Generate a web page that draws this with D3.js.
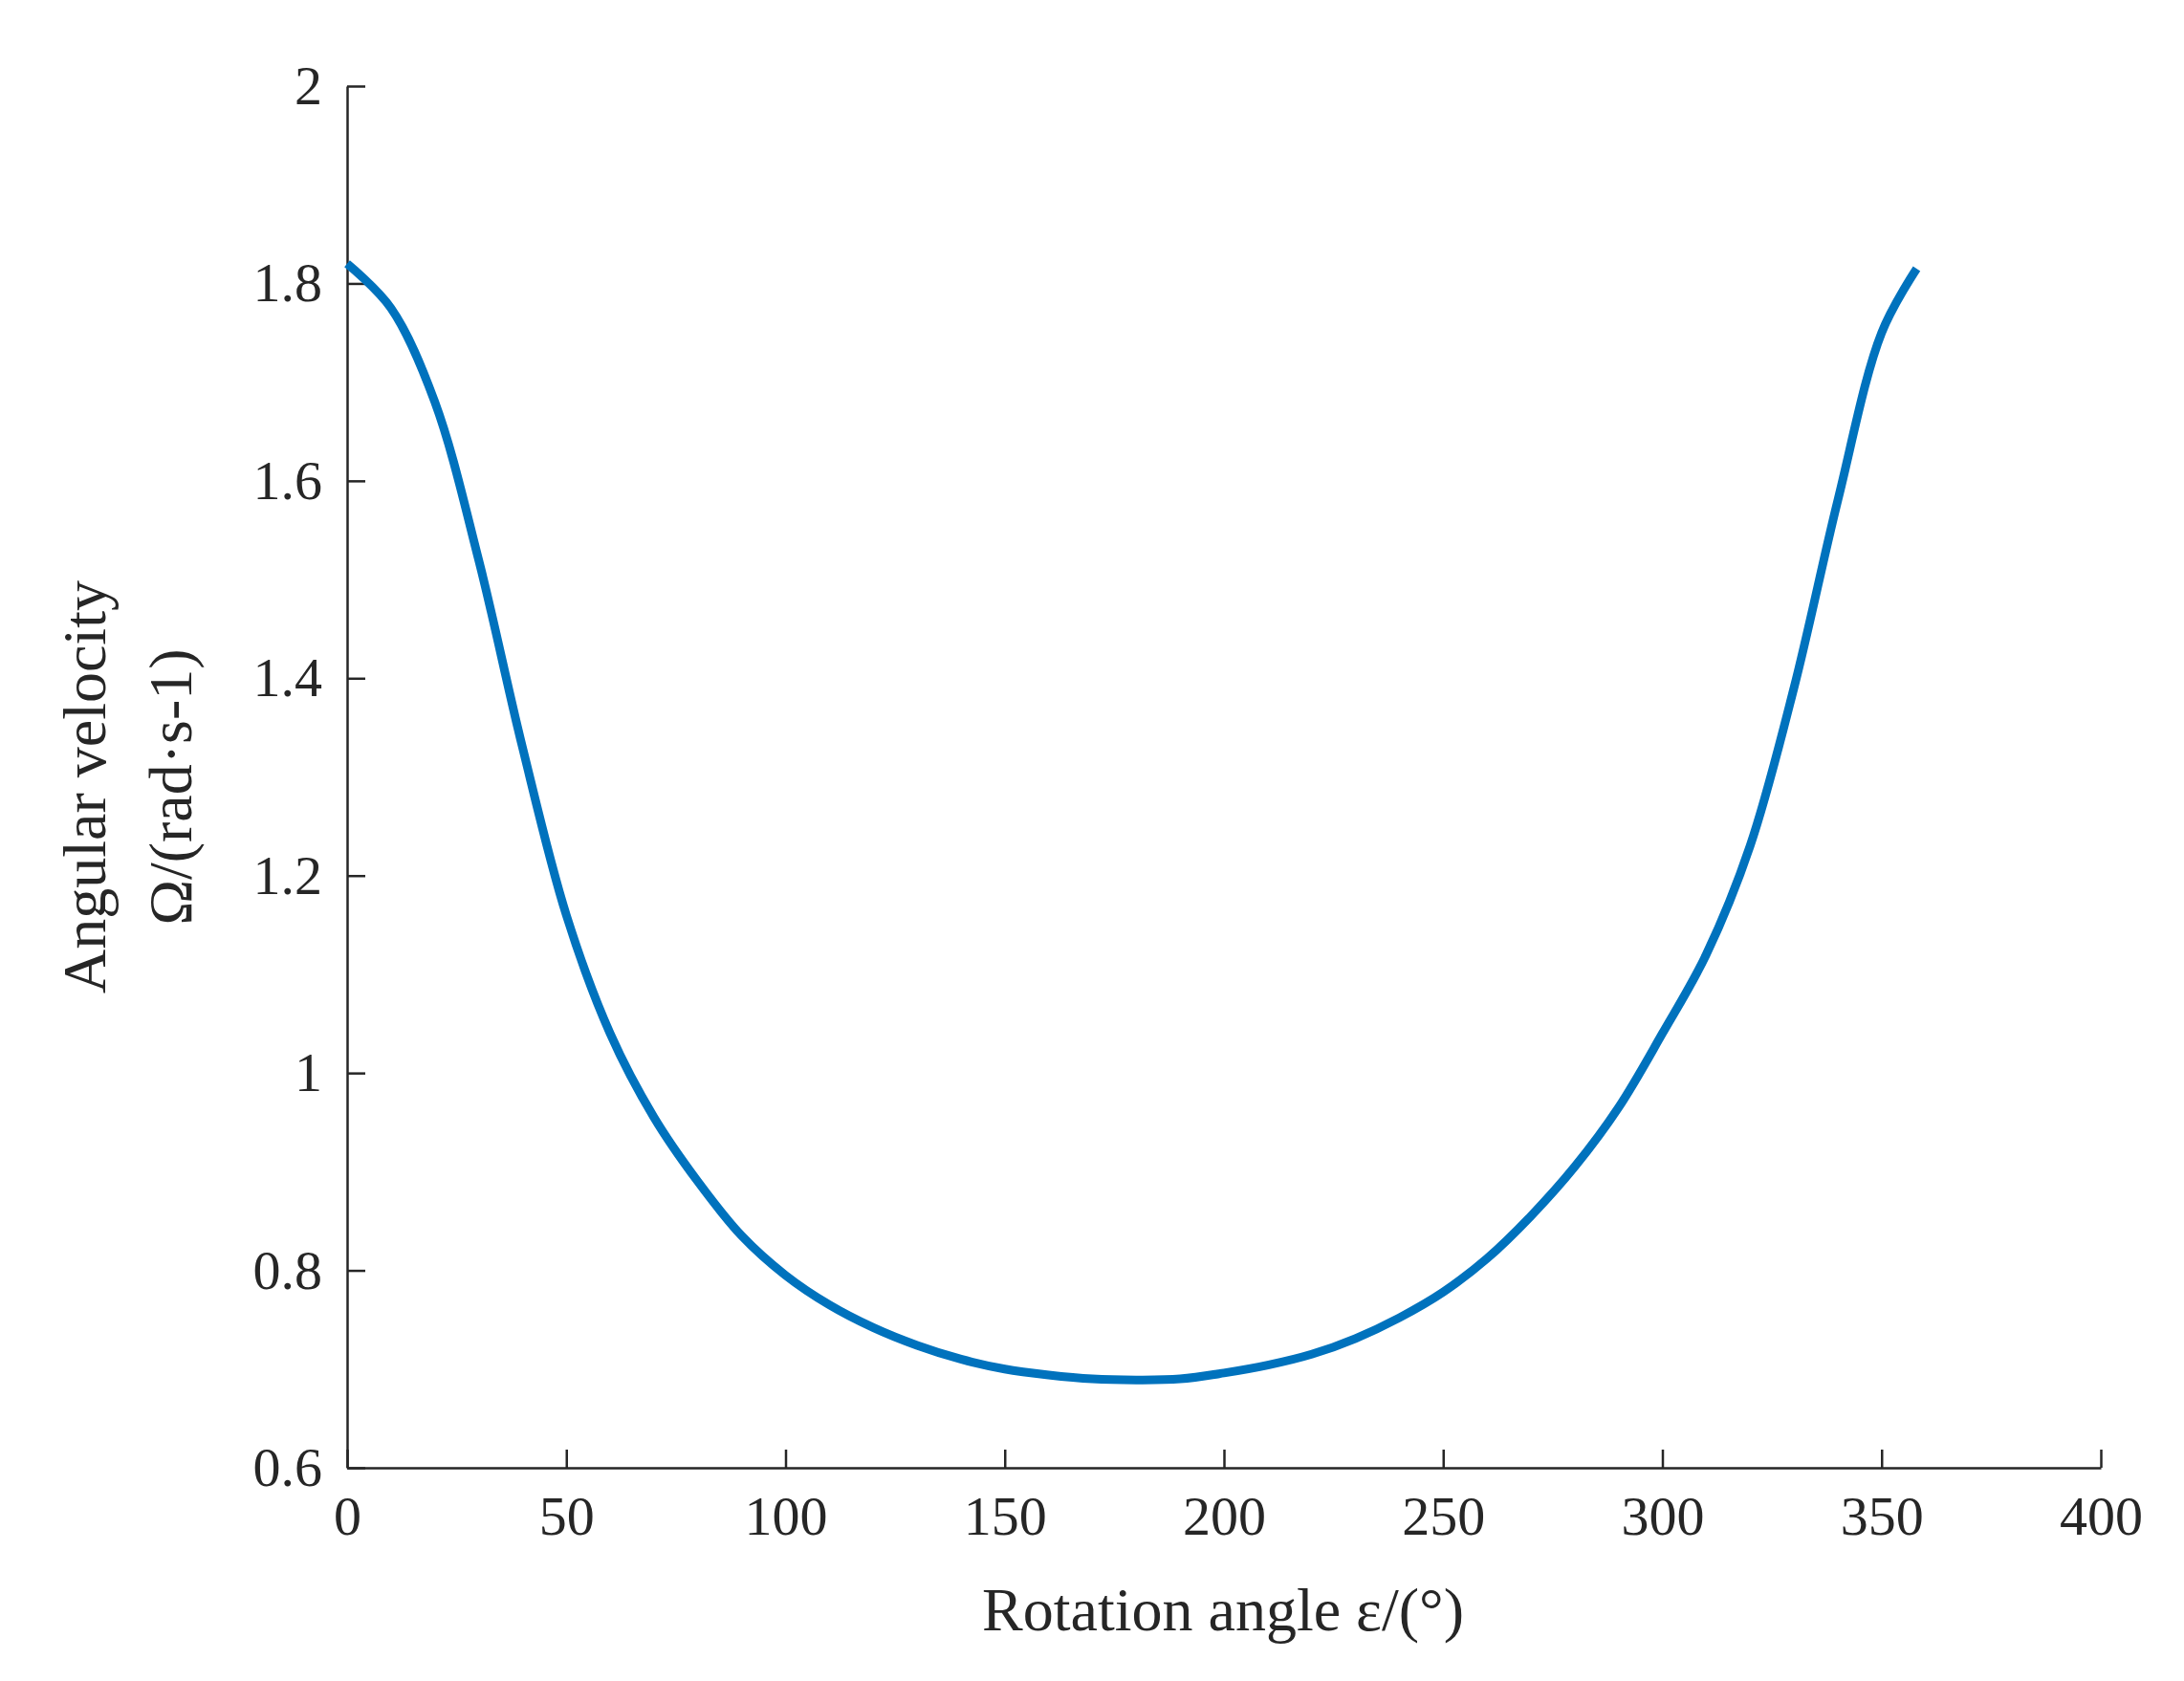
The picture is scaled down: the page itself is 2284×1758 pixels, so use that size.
<!DOCTYPE html>
<html><head><meta charset="utf-8">
<script src="https://cdn.jsdelivr.net/npm/d3@7"></script>
<style>body{margin:0;background:#fff}</style></head>
<body><svg id="c" width="2284" height="1758"></svg>
<script>
const angles = [0,10,20,30,40,50,60,70,80,90,100,110,120,130,140,150,160,170,180,190,200,210,220,230,240,250,260,270,280,290,300,310,320,330,340,350,358];
const omega = [1.82,1.775,1.68,1.52,1.33,1.16,1.04,0.955,0.89,0.835,0.795,0.765,0.742,0.724,0.71,0.700,0.694,0.690,0.689,0.690,0.696,0.704,0.715,0.731,0.752,0.778,0.812,0.855,0.905,0.965,1.04,1.12,1.23,1.39,1.58,1.75,1.815];
const xTicks = [0,50,100,150,200,250,300,350,400];
const yTicks = [0.6,0.8,1,1.2,1.4,1.6,1.8,2];

const svg = d3.select("#c");
const x = d3.scaleLinear().domain([0,400]).range([363,2197]);
const y = d3.scaleLinear().domain([0.6,2]).range([1535,90]);
const font = "'Liberation Serif','Times New Roman',serif";

const gx = svg.append("g").attr("transform","translate(0,1535)")
  .call(d3.axisBottom(x).tickValues(xTicks).tickFormat(d3.format("")).tickSizeInner(-19).tickSizeOuter(0).tickPadding(26));
const gy = svg.append("g").attr("transform","translate(363,0)")
  .call(d3.axisLeft(y).tickValues(yTicks).tickFormat(d=>String(d)).tickSizeInner(-19).tickSizeOuter(0).tickPadding(26));
[gx,gy].forEach(g=>{
  g.selectAll("path,line").attr("stroke","#262626").attr("stroke-width",2.5);
  g.selectAll("text").attr("font-family",font).attr("font-size",58).attr("fill","#262626");
});
gx.selectAll("text").attr("dy","0.75em");

svg.append("path").datum(angles.map((a,i)=>[a,omega[i]]))
  .attr("fill","none").attr("stroke","#0072BD").attr("stroke-width",9)
  .attr("d", d3.line().x(d=>x(d[0])).y(d=>y(d[1])).curve(d3.curveCatmullRom));

svg.append("text").attr("x",1279).attr("y",1705).attr("text-anchor","middle")
  .attr("font-family",font).attr("font-size",64).attr("fill","#262626").text("Rotation angle ε/(°)");
const yl = svg.append("text").attr("transform","translate(0,823) rotate(-90)").attr("text-anchor","middle")
  .attr("font-family",font).attr("font-size",64).attr("fill","#262626");
yl.append("tspan").attr("x",0).attr("y",110).text("Angular velocity");
yl.append("tspan").attr("x",0).attr("y",200).text("Ω/(rad·s-1)");
</script></body></html>
